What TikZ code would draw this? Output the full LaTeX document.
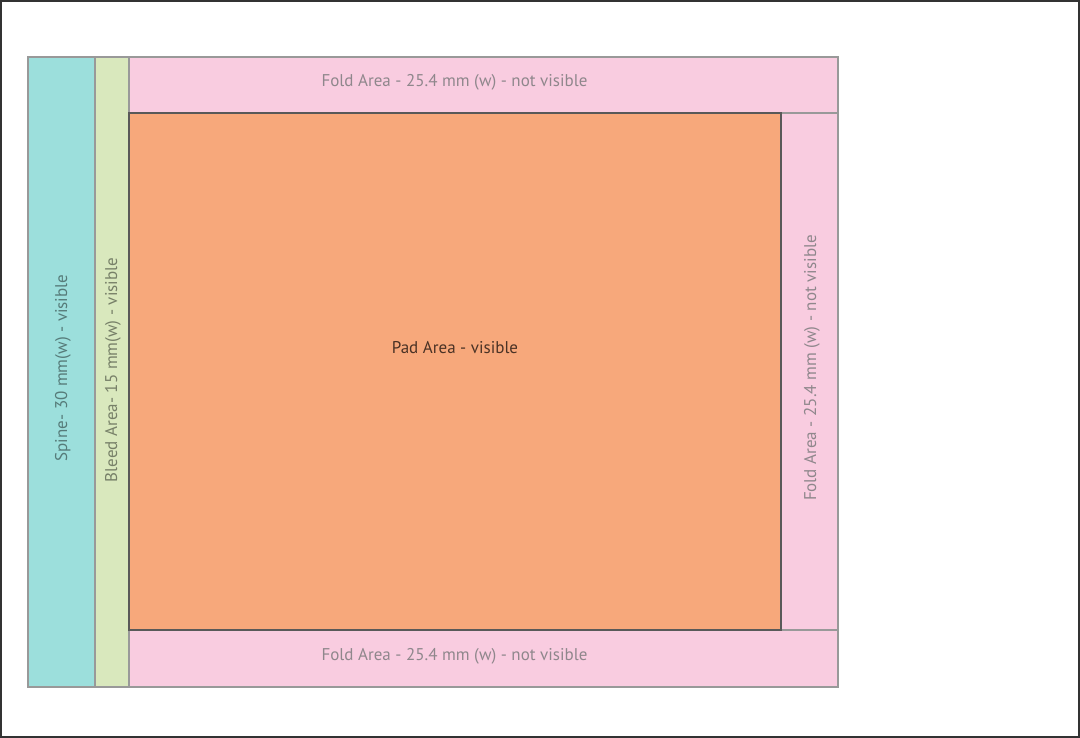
\documentclass[tikz,border=0pt]{standalone}
\usepackage{fontspec}
\setmainfont{PT Sans}
\newlength{\du}
\setlength{\du}{1pt}
\definecolor{spinecolor}{rgb}{0.612, 0.875, 0.863}
\definecolor{bleedcolor}{rgb}{0.851, 0.910, 0.741}
\definecolor{foldcolor}{rgb}{0.976, 0.800, 0.878}
\definecolor{padcolor}{rgb}{0.969, 0.659, 0.482}
\definecolor{edgecolor}{rgb}{0.600, 0.600, 0.600}
\definecolor{labelcolor}{rgb}{0.560, 0.530, 0.550}
\tikzset{
  area/.style={draw=edgecolor, line width=1.2\du},
  padarea/.style={draw=black!65, line width=1.3\du, fill=padcolor},
  arealabel/.style={text=labelcolor, font=\fontsize{17}{20}\selectfont, inner sep=0pt},
}
\begin{document}
\begin{tikzpicture}[x=\du, y=-\du]
\useasboundingbox (0,0) rectangle (1080,738);
\draw[line width=2\du, black!80] (1,1) rectangle (1079,737);
% side strips
\filldraw[area, fill=spinecolor] (28,57) rectangle (95,687);
\filldraw[area, fill=bleedcolor] (95,57) rectangle (129,687);
% fold areas
\filldraw[area, fill=foldcolor] (129,57) rectangle (838,113);
\filldraw[area, fill=foldcolor] (781,113) rectangle (838,630);
\filldraw[area, fill=foldcolor] (129,630) rectangle (838,687);
% pad
\filldraw[padarea] (129,113) rectangle (781,630);
% labels
\node[arealabel] (foldtop) at (454.5,82) {Fold Area - 25.4 mm (w) - not visible};
\node[arealabel] (foldbottom) at (454.5,656) {Fold Area - 25.4 mm (w) - not visible};
\node[arealabel, rotate=90] (foldright) at (812,368) {Fold Area - 25.4 mm (w) - not visible};
\node[arealabel, text=black!70!padcolor] (pad) at (455,348) {Pad Area - visible};
\node[arealabel, rotate=90, text=black!45!spinecolor] (spine) at (63,368) {Spine- 30 mm(w) - visible};
\node[arealabel, rotate=90, text=black!45!bleedcolor] (bleed) at (113,370) {Bleed Area- 15 mm(w) - visible};
\end{tikzpicture}
\end{document}
